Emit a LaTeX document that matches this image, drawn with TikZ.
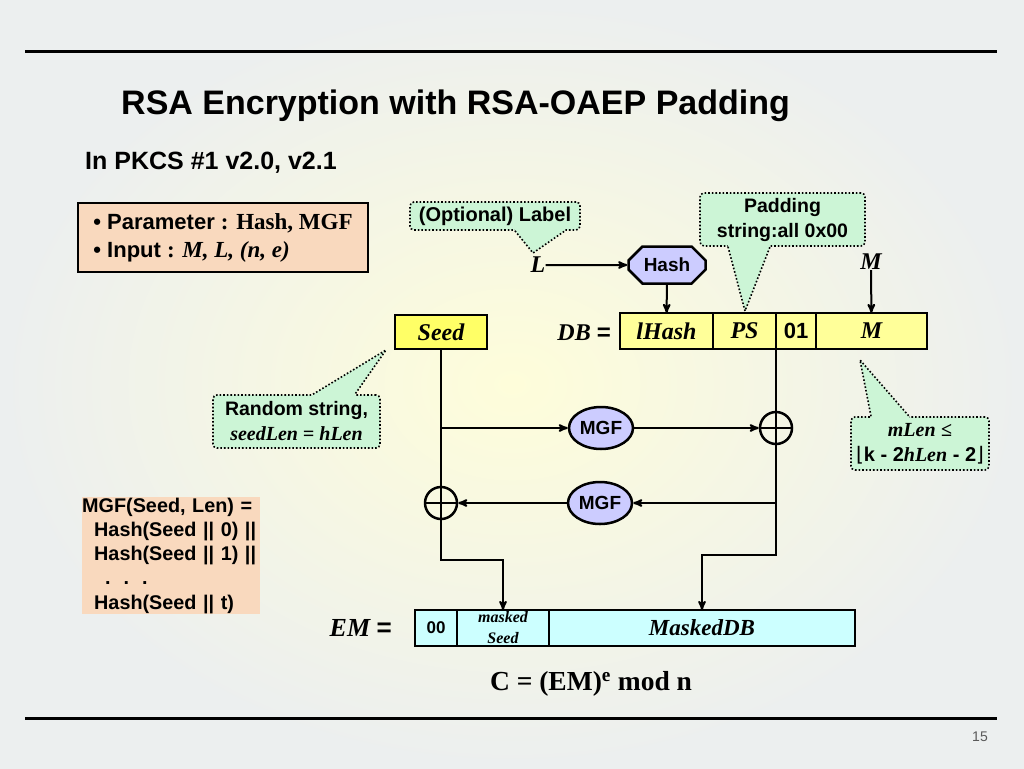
\documentclass[tikz,border=0pt]{standalone}
\usepackage{fontspec}
\setmainfont{Liberation Sans}
\newfontfamily\tms{Liberation Serif}
\newfontfamily\djv{DejaVu Sans}
\usetikzlibrary{calc}
\usetikzlibrary{arrows}
\usetikzlibrary{shapes.geometric,shapes.misc}

\definecolor{bgin}{RGB}{254,253,218}
\definecolor{bgout}{RGB}{236,239,239}
\definecolor{peach}{RGB}{249,217,190}
\definecolor{dbyellow}{RGB}{255,255,153}
\definecolor{seedyellow}{RGB}{255,255,102}
\definecolor{emcyan}{RGB}{204,255,255}
\definecolor{notegreen}{RGB}{204,245,214}
\definecolor{lavender}{RGB}{204,204,255}

\tikzset{
 cell/.style={draw, line width=2.5pt, minimum height=36pt, inner sep=0pt, outer sep=0pt},
 dbcell/.style={cell, fill=dbyellow},
 emcell/.style={cell, fill=emcyan},
 note/.style={draw, dotted, line width=1.6pt, fill=notegreen, rounded corners=4pt, align=center, inner sep=0pt, font=\bfseries\fontsize{20}{25}\selectfont},
 pointer/.style={dotted, line width=1.6pt},
 mgfop/.style={ellipse, draw, line width=2.5pt, fill=lavender, minimum width=64pt, minimum height=42pt, inner sep=0pt, font=\bfseries\fontsize{19}{22}\selectfont},
 xorop/.style={circle, draw, line width=2.5pt, minimum size=32pt, inner sep=0pt,
   path picture={\draw[line width=2.5pt] (path picture bounding box.north) -- (path picture bounding box.south) (path picture bounding box.west) -- (path picture bounding box.east);}},
 wire/.style={line width=2pt},
 it/.style={inner sep=0pt, font=\tms\bfseries\itshape\fontsize{24}{28}\selectfont},
}

\begin{document}
\begin{tikzpicture}[x=1pt, y=-1pt, >=stealth']
\useasboundingbox (0,0) rectangle (1024,768);
\shade[inner color=bgin, outer color=bgout] (0,0) rectangle (1024,768);
\draw[line width=3pt] (25,52) -- (997,52);
\draw[line width=3pt] (25,718) -- (997,718);
\node[anchor=west, inner sep=0pt, font=\bfseries\fontsize{34}{40}\selectfont] (title) at (121,106) {RSA Encryption with RSA-OAEP Padding};
\node[anchor=west, inner sep=0pt, font=\bfseries\fontsize{25}{28}\selectfont] (sub) at (85,163) {In PKCS \#1 v2.0, v2.1};
\node[text=black!65, font=\fontsize{14}{16}\selectfont] (pageno) at (980,737) {15};

\node[draw, line width=2.5pt, fill=peach, minimum width=290pt, minimum height=69pt, align=left, font=\bfseries\fontsize{22}{28}\selectfont] (param) at (223,237.5)
 {\textbullet\ Parameter {\tms\fontsize{23}{28}\selectfont : Hash, MGF}\\\textbullet\ Input {\tms\fontsize{23}{28}\selectfont : \itshape M, L, (n, e)}};

\node[note, minimum width=170pt, minimum height=28pt] (optnote) at (495,216) {(Optional) Label};
\coordinate (optTip) at (533,253);
\fill[notegreen] ($(optnote.south)+(20,-3)$) -- ($(optnote.south)+(20,0)$) -- (optTip) -- ($(optnote.south)+(70,0)$) -- ($(optnote.south)+(70,-3)$) -- cycle;
\draw[pointer] ($(optnote.south)+(20,0)$) -- (optTip) -- ($(optnote.south)+(70,0)$);

\node[note, minimum width=165pt, minimum height=53pt, font=\bfseries\fontsize{19.5}{25}\selectfont] (padnote) at (782.5,219.5) {Padding\\string:all 0x00};
\coordinate (padTip) at (745,311);
\fill[notegreen] ($(padnote.south)+(-54.5,-3)$) -- ($(padnote.south)+(-54.5,0)$) -- (padTip) -- ($(padnote.south)+(-12.5,0)$) -- ($(padnote.south)+(-12.5,-3)$) -- cycle;
\draw[pointer] ($(padnote.south)+(-54.5,0)$) -- (padTip) -- ($(padnote.south)+(-12.5,0)$);

\node[chamfered rectangle, chamfered rectangle xsep=7pt, chamfered rectangle ysep=7pt, draw, line width=2.5pt, fill=lavender, minimum width=77pt, minimum height=37pt, inner sep=0pt, font=\bfseries\fontsize{19}{22}\selectfont] (hash) at (667,265) {Hash};
\node[it] (Llab) at (538,265) {L};
\node[it] (Mlab) at (871,262) {M};

\node[it, anchor=east] (dblab) at (611,333) {DB {\normalfont\bfseries =}};
\node[dbcell, minimum width=93pt, it] (lhash) at (666.5,331) {lHash};
\node[dbcell, minimum width=63pt, it] (ps) at (744.5,331) {PS};
\node[dbcell, minimum width=40pt, font=\bfseries\fontsize{22}{24}\selectfont] (one) at (796,331) {01};
\node[dbcell, minimum width=111pt, it] (mcell) at (871.5,331) {M};

\node[cell, fill=seedyellow, minimum width=92pt, minimum height=34pt, it] (seed) at (441,332) {Seed};

\node[note, minimum width=167pt, minimum height=53pt, font=\bfseries\fontsize{19.5}{25}\selectfont] (rndnote) at (296.5,421.5) {Random string,\\{\tms\itshape\fontsize{20}{25}\selectfont seedLen = hLen}};
\coordinate (rndTip) at (386,350);
\fill[notegreen] ($(rndnote.north)+(16.5,3)$) -- ($(rndnote.north)+(16.5,0)$) -- (rndTip) -- ($(rndnote.north)+(58.5,0)$) -- ($(rndnote.north)+(58.5,3)$) -- cycle;
\draw[pointer] ($(rndnote.north)+(16.5,0)$) -- (rndTip) -- ($(rndnote.north)+(58.5,0)$);

\node[note, minimum width=138pt, minimum height=53pt] (mlennote) at (920,443.5) {{\tms\itshape mLen} {\tms ≤}\\{\djv\mdseries ⌊}k - 2{\tms\itshape hLen} - 2{\djv\mdseries ⌋}};
\coordinate (mlenTip) at (860,360);
\fill[notegreen] ($(mlennote.north)+(-49,3)$) -- ($(mlennote.north)+(-49,0)$) -- (mlenTip) -- ($(mlennote.north)+(-11,0)$) -- ($(mlennote.north)+(-11,3)$) -- cycle;
\draw[pointer] ($(mlennote.north)+(-49,0)$) -- (mlenTip) -- ($(mlennote.north)+(-11,0)$);

\node[mgfop] (mgfA) at (601,428) {MGF};
\node[mgfop] (mgfB) at (600,503) {MGF};
\node[xorop] (xorR) at (776,428) {};
\node[xorop] (xorL) at (441,503) {};

\node[anchor=north west, fill=peach, minimum width=176pt, minimum height=117pt, text width=178pt, inner sep=0pt, align=left, font=\bfseries\fontsize{19.8}{24.3}\selectfont] (mgfdef) at (82,497)
 {MGF(Seed, Len) =\\\hspace*{12pt}Hash(Seed || 0) ||\\\hspace*{12pt}Hash(Seed || 1) ||\\\hspace*{23pt}.\hspace{13pt}.\hspace{13pt}.\\\hspace*{12pt}Hash(Seed || t)};

\node[it, anchor=east, font=\tms\bfseries\itshape\fontsize{26}{30}\selectfont] (emlab) at (392,628) {EM {\normalfont\bfseries =}};
\node[emcell, minimum width=42pt, font=\bfseries\fontsize{17}{20}\selectfont] (zero) at (436,628) {00};
\node[emcell, minimum width=92pt, align=center, font=\tms\bfseries\itshape\fontsize{16}{21}\selectfont] (mseed) at (503,628) {masked\\Seed};
\node[emcell, minimum width=306pt, font=\tms\bfseries\itshape\fontsize{23}{26}\selectfont] (mdb) at (702,628) {MaskedDB};

\node[font=\tms\bfseries\fontsize{27.5}{30}\selectfont] (cipher) at (591,684) {C = (EM)\textsuperscript{e} mod n};

\draw[wire,->] (Llab) -- (hash);
\draw[wire,->] (hash) -- (lhash);
\draw[wire,->] (Mlab) -- (mcell);
\draw[wire] (seed) -- (xorL);
\draw[wire,->] (seed |- mgfA) -- (mgfA);
\draw[wire,->] (mgfA) -- (xorR);
\draw[wire] (xorR |- ps.south) -- (xorR);
\draw[wire,->] (xorR |- mgfB) -- (mgfB);
\draw[wire,->] (mgfB) -- (xorL);
\coordinate (bendL) at (441,560);
\coordinate (bendR) at (776,555);
\draw[wire,->] (xorL) -- (bendL) -| (mseed.north);
\draw[wire,->] (xorR) -- (bendR) -| (mdb.north);
\end{tikzpicture}
\end{document}
